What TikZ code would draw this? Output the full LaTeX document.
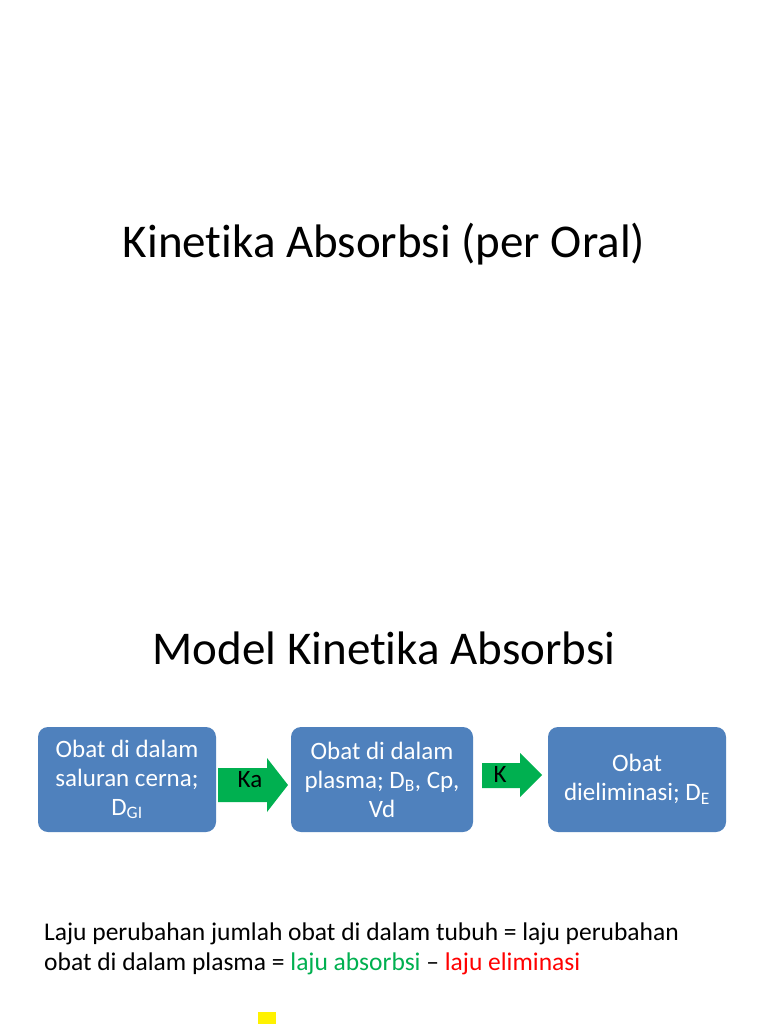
\documentclass[tikz,border=0pt]{standalone}
\usepackage{fontspec}
\setmainfont{Carlito}[Ligatures={TeX,NoCommon}]
\usepackage{tikz}
\usetikzlibrary{positioning, calc}

\definecolor{boxblue}{HTML}{4F81BD}
\definecolor{arrowgreen}{HTML}{00B050}

\begin{document}
\begin{tikzpicture}[
        x=1pt, y=-1pt,
        % Style for the slide titles
        slidetitle/.style={
            font=\fontsize{47}{56}\selectfont, text=black, inner sep=0pt
        },
        % Style for the compartments (rounded boxes)
        compartment/.style={
            rectangle, rounded corners=10pt, fill=boxblue, draw=none,
            minimum width=178pt, minimum height=105pt, inner sep=0pt,
            align=center, text=white, font=\fontsize{25}{29}\selectfont
        },
        % Style for the block arrows and their rate labels
        blockarrow/.style={fill=arrowgreen, draw=none},
        ratelabel/.style={font=\fontsize{25}{29}\selectfont, text=black, inner sep=0pt},
        % Style for the running text below
        bodytext/.style={
            font=\fontsize{25.5}{30}\selectfont, text=black,
            align=left, inner sep=0pt, anchor=base west
        }
    ]

        % 0. Page frame
        \useasboundingbox[fill=white] (0,0) rectangle (768,1024);

        % 1. Titles
        \node[slidetitle, anchor=base] (title) at (384,258) {Kinetika Absorbsi (per Oral)};
        \node[slidetitle, anchor=base] (modeltitle) at (384,664) {Model Kinetika Absorbsi};

        % 2. Compartments
        \node[compartment] (gi) at (127,779.5) {Obat di dalam\\saluran cerna;\\D\textsubscript{GI}};
        \node[compartment, minimum width=182pt] (plasma) at (382,779.5) {Obat di dalam\\plasma; D\textsubscript{B}, Cp,\\Vd};
        \node[compartment] (elim) at (637,779.5) {Obat\\dieliminasi; D\textsubscript{E}};

        % 3. Block arrows between the compartments
        \fill[blockarrow] (218,768) -- (267,768) -- (267,758) -- (288,785)
            -- (267,812) -- (267,802) -- (218,802) -- cycle;
        \node[ratelabel, anchor=base] (ka) at (250,787) {Ka};

        \fill[blockarrow] (482,763) -- (520,763) -- (520,753) -- (542,775)
            -- (520,797) -- (520,788) -- (482,788) -- cycle;
        \node[ratelabel, anchor=base] (k) at (500,782) {K};

        % 4. Running text (base anchor sits on the last line)
        \node[bodytext] (rate) at (44,970) {Laju perubahan jumlah obat di dalam tubuh = laju perubahan\\
            obat di dalam plasma = \textcolor{arrowgreen}{laju absorbsi} -- \textcolor{red}{laju eliminasi}};

        % 5. Highlight mark at the bottom edge
        \fill[yellow] (258,1012) rectangle (276,1024);

    \end{tikzpicture}
\end{document}
